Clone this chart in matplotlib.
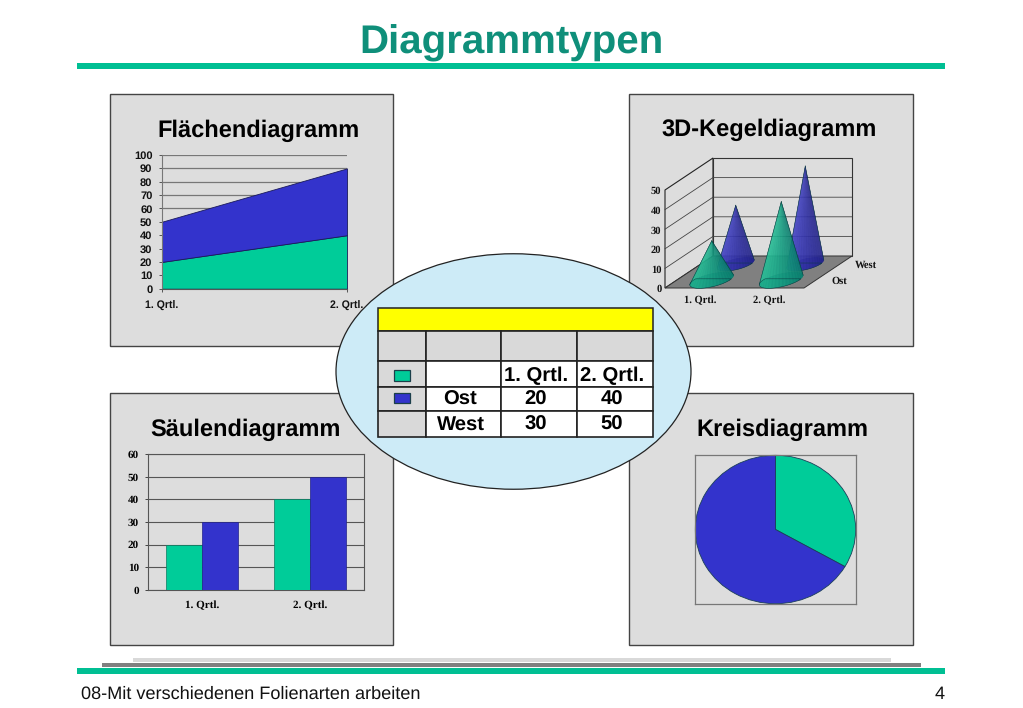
import numpy as np
import matplotlib
matplotlib.use('Agg')
import matplotlib.pyplot as plt
from matplotlib.patches import Rectangle, Ellipse
from matplotlib.collections import PolyCollection

W, H = 1023, 708
plt.rcParams['font.family'] = ['Liberation Sans', 'DejaVu Sans']
plt.rcParams['text.hinting'] = 'no_hinting'

quarters = ['1. Qrtl.', '2. Qrtl.']
series_names = ['Ost', 'West']
ost = [20, 40]
west = [30, 50]
pie_values = [20, 40]
area_ticks = [0, 10, 20, 30, 40, 50, 60, 70, 80, 90, 100]
bar_ticks = [0, 10, 20, 30, 40, 50, 60]
cone_ticks = [0, 10, 20, 30, 40, 50]
panel_titles = ['Flächendiagramm', '3D-Kegeldiagramm', 'Säulendiagramm', 'Kreisdiagramm']

GREEN = '#00CC99'
BLUE = '#3333CC'
TEAL = '#00BF93'
PANEL = '#DDDDDD'


def ax_px(x0, y0, x1, y1, z=1):
    # axes from pixel box, y counted from the top like in the picture
    ax = fig.add_axes([x0/W, 1-y1/H, (x1-x0)/W, (y1-y0)/H])
    ax.set_zorder(z)
    ax.patch.set_alpha(0)
    return ax


fig = plt.figure(figsize=(W/100, H/100), dpi=100, facecolor='white')

# page layer: panels, bars, titles
page = ax_px(0, 0, W, H, 0)
page.set_xlim(0, W)
page.set_ylim(H, 0)
page.axis('off')

page.text(511.5, 54, 'Diagrammtypen', fontsize=29, fontweight='bold', color='#0F8F7A', ha='center', va='baseline')
page.add_patch(Rectangle((77, 63), 868, 6, fc=TEAL, ec='none'))
page.add_patch(Rectangle((133, 658), 758, 4, fc='#D9D9D9', ec='none'))
page.add_patch(Rectangle((102, 662.5), 819, 4.5, fc='#808080', ec='none'))
page.add_patch(Rectangle((77, 667.5), 868, 6.5, fc=TEAL, ec='none'))
page.text(81, 699, '08-Mit verschiedenen Folienarten arbeiten', fontsize=13.1, color='#111111', ha='left', va='baseline')
page.text(945, 699, '4', fontsize=13.1, color='#111111', ha='right', va='baseline')

panels = [(110, 94, 393, 346), (629, 94, 913, 346), (110, 393, 393, 645), (629, 393, 913, 645)]
title_pos = [(259, 137), (769.5, 136), (246, 436), (782, 436)]
for (x0, y0, x1, y1), title, (tx, ty) in zip(panels, panel_titles, title_pos):
    page.add_patch(Rectangle((x0, y0), x1-x0, y1-y0, fc=PANEL, ec='#444444', lw=1))
    page.text(tx, ty, title, fontsize=17, fontweight='bold', color='black', ha='center', va='baseline')

# Flaechendiagramm
ax = ax_px(161.5, 155, 347, 288.7)
ax.stackplot([0, 1], ost, west, colors=[GREEN, BLUE], edgecolor='#1a1a5a', linewidth=0.6)
ax.set_xlim(0, 1)
ax.set_ylim(0, 100)
ax.set_yticks(area_ticks)
ax.set_xticks([0, 1], quarters)
ax.grid(axis='y', color='#777777', lw=0.9)
ax.set_axisbelow(True)
for s in ['top', 'right']:
    ax.spines[s].set_visible(False)
ax.spines['left'].set_color('#777777')
ax.spines['bottom'].set_color('#555555')
ax.tick_params(axis='y', length=2, width=0.7, color='#555555', labelsize=8, pad=4.5, labelcolor='#111111')
ax.tick_params(axis='x', length=2, width=0.7, color='#555555', labelsize=7.6, pad=7, labelcolor='#111111')
for lab in ax.get_xticklabels()+ax.get_yticklabels():
    lab.set_fontweight('bold')

# Saeulendiagramm
ax = ax_px(148, 454, 364, 589.8)
x = np.arange(len(quarters))
bw = 1/3
ax.bar(x-bw/2, ost, bw, color=GREEN, edgecolor='#0b7a60', linewidth=0.5, zorder=3)
ax.bar(x+bw/2, west, bw, color=BLUE, edgecolor='#22228a', linewidth=0.5, zorder=3)
ax.set_xlim(-0.5, 1.5)
ax.set_ylim(0, 60)
ax.set_yticks(bar_ticks)
ax.set_xticks(x, quarters)
ax.grid(axis='y', color='#555555', lw=0.8, zorder=0)
for s in ax.spines.values():
    s.set_color('#555555')
    s.set_linewidth(0.8)
ax.tick_params(axis='y', length=2, width=0.7, color='#444444', labelsize=8, pad=4.5)
ax.tick_params(axis='x', length=0, labelsize=8, pad=8)
for lab in ax.get_xticklabels()+ax.get_yticklabels():
    lab.set_fontfamily('Liberation Serif')
    lab.set_fontweight('bold')

# Kreisdiagramm
ax = ax_px(695.3, 455.3, 855.7, 603.7)
ax.pie(pie_values, colors=[GREEN, BLUE], startangle=90, counterclock=False, radius=1,
       wedgeprops=dict(edgecolor='#1b3f5a', linewidth=0.6))
ax.set_aspect('auto')
ax.set_xlim(-1, 1)
ax.set_ylim(-1, 1)
ax.set_frame_on(True)
for s in ax.spines.values():
    s.set_color('#777777')
    s.set_linewidth(0.9)

# 3D-Kegeldiagramm: oblique projection, x in categories, y in values
ax = ax_px(640, 150, 890, 310)
px_cat = 69.5
px_val = 98/50
dep_x = 48/px_cat
dep_y = 32/px_val
ax.set_xlim(-(665-640)/px_cat, (890-665)/px_cat)
ax.set_ylim(-(310-288)/px_val, (288-150)/px_val)
ax.axis('off')


def proj(cat, depth, val):
    return cat+depth*dep_x, val+depth*dep_y


floor = [proj(0, 0, 0), proj(2, 0, 0), proj(2, 1, 0), proj(0, 1, 0)]
ax.add_patch(plt.Polygon(floor, fc='#808080', ec='#333333', lw=0.7, zorder=2))
wall_top = cone_ticks[-1]
ax.add_patch(plt.Polygon([proj(0, 0, 0), proj(0, 1, 0), proj(0, 1, wall_top), proj(0, 0, wall_top)],
                         fc=PANEL, ec='#222222', lw=0.8, zorder=1))
ax.add_patch(plt.Polygon([proj(0, 1, 0), proj(2, 1, 0), proj(2, 1, wall_top), proj(0, 1, wall_top)],
                         fc=PANEL, ec='#333333', lw=0.8, zorder=1))
for t in cone_ticks[1:-1]:
    ax.plot(*zip(proj(0, 0, t), proj(0, 1, t), proj(2, 1, t)), color='#444444', lw=0.6, zorder=1.5)
for t in cone_ticks:
    tx, ty = proj(0, 0, t)
    ax.text(tx-0.05, ty-0.8, str(t), family='Liberation Serif', fontweight='bold', fontsize=7.6, ha='right', va='center', color='#111111')
for i, q in enumerate(quarters):
    tx, ty = proj(i+0.5, 0, 0)
    ax.text(tx, ty-6.2, q, family='Liberation Serif', fontweight='bold', fontsize=7.6, ha='center', va='center', color='#111111')
for d, name in zip([0.25, 0.75], series_names):
    tx, ty = proj(2, d, 0)
    ax.text(tx+0.22, ty-0.8, name, family='Liberation Serif', fontweight='bold', fontsize=7.6, ha='left', va='center', color='#111111')


def cone(cat, depth, val, rad, light, dark, z):
    # base is a circle in the floor plane, sides are fan facets to the tip
    t = np.linspace(0, 2*np.pi, 181)
    bx = cat+depth*dep_x+rad*np.cos(t)+rad*dep_x*np.sin(t)
    by = depth*dep_y+rad*dep_y*np.sin(t)
    tipx, tipy = proj(cat, depth, val)
    light, dark = np.array(light), np.array(dark)
    polys, cols, backs = [], [], []
    for i in range(len(t)-1):
        polys.append([(tipx, tipy), (bx[i], by[i]), (bx[i+1], by[i+1])])
        f = 0.5+0.5*np.cos(t[i]+2.6)+0.07*np.sin(t[i]*36)
        cols.append(tuple(np.clip(dark+(light-dark)*f, 0, 1)))
        backs.append(-by[i])
    order = np.argsort(backs)
    # back facets first, so the near side of the cone covers them
    ax.add_patch(plt.Polygon(np.c_[bx, by], fc=tuple(dark), ec='none', zorder=z))
    ax.add_collection(PolyCollection([polys[k] for k in order], facecolors=[cols[k] for k in order],
                                     edgecolors='none', zorder=z+0.1))
    near = np.sin(t) < 0.15
    ax.plot(bx[near], by[near], color='#0a3a40', lw=0.35, zorder=z+0.2)
    for s in [np.argmin(bx), np.argmax(bx)]:
        ax.plot([tipx, bx[s]], [tipy, by[s]], color='#0a3a40', lw=0.4, zorder=z+0.2)


green_l, green_d = (0.16, 0.76, 0.60), (0.05, 0.50, 0.44)
blue_l, blue_d = (0.27, 0.27, 0.78), (0.15, 0.15, 0.55)
for i in range(2):
    cone(i+0.5, 0.75, west[i], 0.22, blue_l, blue_d, 3+i*0.5)
for i in range(2):
    cone(i+0.5, 0.25, ost[i], 0.26, green_l, green_d, 5+i*0.5)

# top layer: ellipse with the table
top = ax_px(0, 0, W, H, 2)
top.set_xlim(0, W)
top.set_ylim(H, 0)
top.axis('off')
top.add_patch(Ellipse((513.5, 371.5), 355, 235.5, fc='#CDEBF7', ec='#222222', lw=0.9))

col_x = [378, 426, 501, 577, 653]
row_y = [307.5, 331, 361, 387, 411, 437]
top.add_patch(Rectangle((col_x[0], row_y[0]), col_x[-1]-col_x[0], row_y[1]-row_y[0], fc='#FFFF00', ec='#222222', lw=1.1))
for c in range(4):
    for r in range(1, 5):
        if c == 0 or r == 1:
            fc = '#D9D9D9'
        else:
            fc = 'white'
        top.add_patch(Rectangle((col_x[c], row_y[r]), col_x[c+1]-col_x[c], row_y[r+1]-row_y[r], fc=fc, ec='#222222', lw=1.2))
table_rows = [[''] + quarters, [series_names[0]] + [str(v) for v in [ost[0], ost[1]]], [series_names[1]] + [str(v) for v in [west[0], west[1]]]]
base_y = [381, 404.5, 430]
for r, row in enumerate(table_rows):
    for c, txt in enumerate(row):
        top.text((col_x[c+1]+col_x[c+2])/2-3, base_y[r], txt, fontsize=14.6, fontweight='bold', color='black', ha='center', va='baseline')
for r, col in enumerate([GREEN, BLUE]):
    top.add_patch(Rectangle((393.5, 370+r*22.5), 16, 10.5, fc=col, ec='#1b3f4a', lw=0.9))

fig.savefig('out.png', dpi=100)
